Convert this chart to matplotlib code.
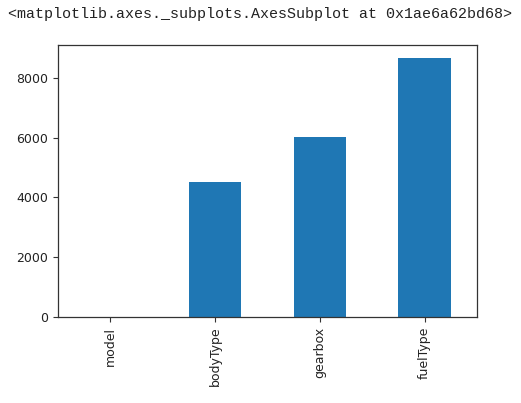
import matplotlib
matplotlib.use("Agg")
import matplotlib.pyplot as plt

categories = ["model", "bodyType", "gearbox", "fuelType"]
values = [0, 4510, 6010, 8670]

fig = plt.figure(figsize=(5.21, 4.03), dpi=100)
fig.text(8/521, 1 - 14/403, "<matplotlib.axes._subplots.AxesSubplot at 0x1ae6a62bd68>",
         family="Liberation Mono", fontsize=10.8, va="center", ha="left", color="#222222")

ax = fig.add_axes([58/521, 1 - 317/403, (477-58)/521, (317-45)/403])
ax.bar(range(len(categories)), values, width=0.5, color="#1f77b4")
ax.set_xlim(-0.5, len(categories) - 0.5)
ax.set_ylim(0, max(values) * 1.05)
ax.set_xticks(range(len(categories)))
ax.set_xticklabels(categories, rotation=90, fontsize=9)
ax.set_yticks([0, 2000, 4000, 6000, 8000])
ax.tick_params(axis="both", labelsize=9, colors="#333333", labelcolor="#222222")
for s in ax.spines.values():
    s.set_linewidth(0.9)
    s.set_color("#333333")

fig.savefig("out.png", dpi=100)
